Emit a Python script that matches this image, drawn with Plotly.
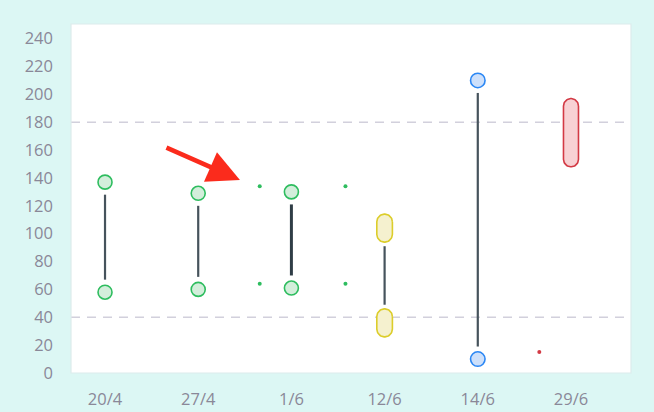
import plotly.graph_objects as go
import numpy as np

# ---------------- data ----------------
categories = ["20/4", "27/4", "1/6", "12/6", "14/6", "29/6"]
y_ticks = list(range(0, 241, 20))

green_x = [0, 1, 2]
green_low = [58, 60, 61]
green_high = [137, 129, 130]

yellow_x = [3]
yellow_low = [36]
yellow_high = [104]

blue_x = [4]
blue_low = [10]
blue_high = [210]

red_x = [5]
red_low = [148]
red_high = [197]

stray_green_x = [1.66, 1.66, 2.58, 2.58]
stray_green_y = [134, 64, 134, 64]
stray_red_x = [4.66]
stray_red_y = [15]

ref_lines = [40, 180]

# ---------------- layout constants ----------------
W, H = 654, 412
ML, MR, MT, MB = 71, 23, 24, 39
Y_MAX = 250.5
X_RANGE = [-0.365, 5.644]
plot_w = W - ML - MR
plot_h = H - MT - MB
kx = plot_w / (X_RANGE[1] - X_RANGE[0])   # px per x unit
ky = plot_h / Y_MAX                        # px per y unit
GAP = 9                                    # gap (data units) between marker and line

LINE_COL = "#46535c"
FONT = "Open Sans"
TICK_COL = "#8a8898"


def capsule(xc, y0, y1, r_px=7.8):
    """outline of a vertical rounded bar from y0 to y1 (outer extent)"""
    rx = r_px / kx
    ry = r_px / ky
    top_c = y1 - ry
    bot_c = y0 + ry
    t1 = np.linspace(0, np.pi, 30)
    t2 = np.linspace(np.pi, 2 * np.pi, 30)
    xs = list(xc + rx * np.cos(t1)) + list(xc + rx * np.cos(t2))
    ys = list(top_c + ry * np.sin(t1)) + list(bot_c + ry * np.sin(t2))
    xs.append(xs[0]); ys.append(ys[0])
    return xs, ys


fig = go.Figure()

# connecting lines
def add_links(xs, lows, highs, width=2.2, color=LINE_COL):
    lx, ly = [], []
    for x, lo, hi in zip(xs, lows, highs):
        lx += [x, x, None]
        ly += [lo + GAP, hi - GAP, None]
    fig.add_trace(go.Scatter(x=lx, y=ly, mode="lines",
                             line=dict(color=color, width=width),
                             hoverinfo="skip", showlegend=False))

add_links(green_x[:2], green_low[:2], green_high[:2])
add_links(green_x[2:], green_low[2:], green_high[2:], width=3, color="#2f3d46")
add_links(yellow_x, [v + 4 for v in yellow_low], [v - 4 for v in yellow_high])
add_links(blue_x, blue_low, blue_high)

# green dumbbell ends
fig.add_trace(go.Scatter(
    x=green_x + green_x, y=green_low + green_high, mode="markers",
    marker=dict(size=14, color="#d3eedb", line=dict(color="#2ebd5f", width=1.6)),
    showlegend=False))

# blue dumbbell ends
fig.add_trace(go.Scatter(
    x=blue_x + blue_x, y=blue_low + blue_high, mode="markers",
    marker=dict(size=14.5, color="#cde0fb", line=dict(color="#2b87f4", width=1.6)),
    showlegend=False))

# yellow capsules (centered at values, +-14px)
for x, lo, hi in zip(yellow_x, yellow_low, yellow_high):
    for v in (lo, hi):
        cx, cy = capsule(x, v - 14 / ky, v + 14 / ky)
        fig.add_trace(go.Scatter(x=cx, y=cy, mode="lines", fill="toself",
                                 fillcolor="#f5f1cf",
                                 line=dict(color="#dccd2b", width=1.6),
                                 hoverinfo="skip", showlegend=False))

# red range capsule
for x, lo, hi in zip(red_x, red_low, red_high):
    cx, cy = capsule(x, lo, hi, r_px=7.5)
    fig.add_trace(go.Scatter(x=cx, y=cy, mode="lines", fill="toself",
                             fillcolor="#f8d1d4",
                             line=dict(color="#d33a45", width=1.6),
                             hoverinfo="skip", showlegend=False))

# stray small dots
fig.add_trace(go.Scatter(x=stray_green_x, y=stray_green_y, mode="markers",
                         marker=dict(size=4, color="#2ebd5f"), showlegend=False))
fig.add_trace(go.Scatter(x=stray_red_x, y=stray_red_y, mode="markers",
                         marker=dict(size=4, color="#d33a45"), showlegend=False))

# reference dashed lines
for v in ref_lines:
    fig.add_shape(type="line", xref="paper", yref="y", x0=0, x1=1, y0=v, y1=v,
                  line=dict(color="#d2d0dc", width=1.4, dash="9px,7px"), layer="below")

# plot border
fig.add_shape(type="rect", xref="paper", yref="paper", x0=0, x1=1, y0=0, y1=1,
              line=dict(color="#dcecec", width=1.2), layer="below")

# arrow annotation
fig.add_annotation(x=1.448, y=138.6, xref="x", yref="y", text="", showarrow=True,
                   ax=-75, ay=-33, arrowhead=2, arrowsize=1.4, arrowwidth=4.6,
                   arrowcolor="#fb2b1c")

fig.update_layout(
    width=W, height=H,
    margin=dict(l=ML, r=MR, t=MT, b=MB),
    paper_bgcolor="#dcf7f4",
    plot_bgcolor="#ffffff",
    font=dict(family=FONT, size=16.5, color=TICK_COL, weight=500),
    showlegend=False,
    xaxis=dict(range=X_RANGE, tickmode="array",
               tickvals=list(range(len(categories))), ticktext=categories,
               showgrid=False, zeroline=False, showline=False, ticks="",
               ticklabelstandoff=14, automargin=False),
    yaxis=dict(range=[0, Y_MAX], tickmode="array", tickvals=y_ticks,
               showgrid=False, zeroline=False, showline=False, ticks="",
               ticklabelstandoff=17, automargin=False),
)

fig.write_html("out.html", config={"displayModeBar": False},
               post_script="document.body.style.margin='0';document.body.style.background='#dcf7f4';")
